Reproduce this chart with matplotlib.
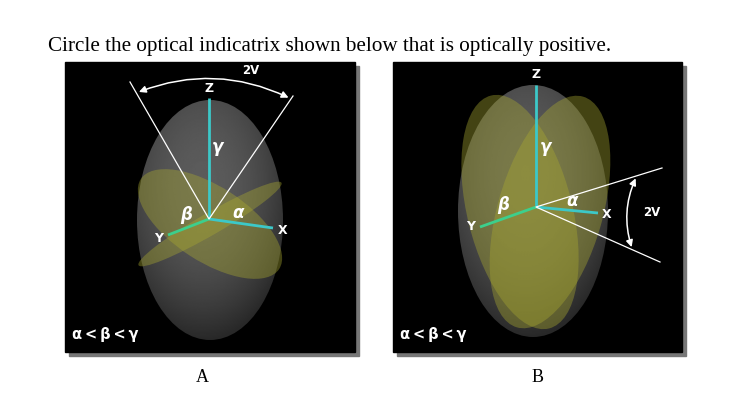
import matplotlib.pyplot as plt
import numpy as np
from matplotlib.patches import Ellipse, Rectangle, FancyArrowPatch

# panel geometry in picture pixels: (left, top, right, bottom)
panels = {"A": (65, 62, 355, 352), "B": (393, 62, 682, 352)}
title = "Circle the optical indicatrix shown below that is optically positive."

# indicatrix data per panel
body = {"A": (210, 220, 146, 240), "B": (533, 211, 150, 252)}      # cx, cy, w, h
origin = {"A": (209, 219), "B": (536, 207)}
axis_end = {
    "A": {"Z": (209, 98), "X": (273, 228), "Y": (168, 235)},
    "B": {"Z": (536, 85), "X": (598, 213), "Y": (480, 227)},
}
axis_label = {
    "A": {"Z": (209, 88), "X": (283, 231), "Y": (159, 238)},
    "B": {"Z": (536, 74), "X": (607, 215), "Y": (471, 227)},
}
greek = {
    "A": {"γ": (218, 147), "β": (186, 215), "α": (238, 213)},
    "B": {"γ": (546, 147), "β": (503, 205), "α": (572, 201)},
}
sections = {
    "A": [(210, 224, 165, 75, 33), (210, 224, 165, 22, -30)],
    "B": [(520, 212, 105, 240, -14), (550, 212, 105, 240, 16)],
}
optic_ends = {"A": [(130, 82), (293, 96)], "B": [(662, 168), (660, 262)]}
arc_frac = {"A": 0.92, "B": 0.8}
twov_label = {"A": (251, 70), "B": (652, 213)}
arc_bend = {"A": -0.22, "B": 0.2}

fig = plt.figure(figsize=(7.47, 4.07), dpi=100)
ax = fig.add_axes([0, 0, 1, 1])
ax.set_xlim(0, 747)
ax.set_ylim(407, 0)
ax.axis("off")

ax.text(48, 47, title, family="Liberation Serif", fontsize=15.2, va="center", ha="left")

yy, xx = np.mgrid[-1:1:200j, -1:1:200j]
for key, (l, t, r, b) in panels.items():
    ax.add_patch(Rectangle((l + 4, t + 4), r - l, b - t, color="#777777", zorder=1))
    ax.add_patch(Rectangle((l, t), r - l, b - t, color="black", zorder=2))

    cx, cy, w, h = body[key]
    el = Ellipse((cx, cy), w, h, facecolor="none", edgecolor="none", zorder=3)
    ax.add_patch(el)
    shade = 0.36 - 0.2 * np.clip(np.hypot(xx + 0.1, yy + 0.3) / 1.3, 0, 1) ** 2
    im = ax.imshow(shade, cmap="gray", vmin=0, vmax=1, zorder=3,
                   extent=(cx - w / 2, cx + w / 2, cy + h / 2, cy - h / 2))
    im.set_clip_path(el)

    for sx, sy, sw, sh, ang in sections[key]:
        ax.add_patch(Ellipse((sx, sy), sw, sh, angle=ang, facecolor="#a8a830",
                             alpha=0.4, edgecolor="none", zorder=4))

    ox, oy = origin[key]
    for name, (ex, ey) in axis_end[key].items():
        ax.plot([ox, ex], [oy, ey], color="#3cc8c8" if name != "Y" else "#3ccf8c",
                lw=2, zorder=5, solid_capstyle="butt")
        lx, ly = axis_label[key][name]
        ax.text(lx, ly, name, color="white", fontsize=9, fontweight="bold",
                ha="center", va="center", zorder=6)
    for g, (gx, gy) in greek[key].items():
        ax.text(gx, gy, g, color="white", fontsize=12, fontweight="bold", style="italic",
                ha="center", va="center", zorder=6)

    (ax1, ay1), (ax2, ay2) = optic_ends[key]
    ax.plot([ax1, ox, ax2], [ay1, oy, ay2], color="white", lw=0.9, zorder=5)
    # 2V arc between the optic axes
    rad = arc_frac[key] * np.hypot(ax1 - ox, ay1 - oy)
    a1 = np.arctan2(ay1 - oy, ax1 - ox)
    a2 = np.arctan2(ay2 - oy, ax2 - ox)
    p1 = (ox + rad * np.cos(a1), oy + rad * np.sin(a1))
    p2 = (ox + rad * np.cos(a2), oy + rad * np.sin(a2))
    ax.add_patch(FancyArrowPatch(p1, p2, connectionstyle="arc3,rad=%.2f" % arc_bend[key],
                                 arrowstyle="<|-|>,head_length=4,head_width=2", color="white",
                                 lw=1.1, zorder=6))
    tx, ty = twov_label[key]
    ax.text(tx, ty, "2V", color="white", fontsize=8.5, fontweight="bold",
            ha="center", va="center", zorder=6)

    ax.text(l + 7, b - 18, "α\u2009<\u2009β\u2009<\u2009γ", color="white", fontsize=10.5,
            fontweight="bold", ha="left", va="center", zorder=6)

ax.text(202, 378, "A", family="Liberation Serif", fontsize=13, ha="center", va="center")
ax.text(538, 378, "B", family="Liberation Serif", fontsize=13, ha="center", va="center")

fig.savefig("out.png", dpi=100)
